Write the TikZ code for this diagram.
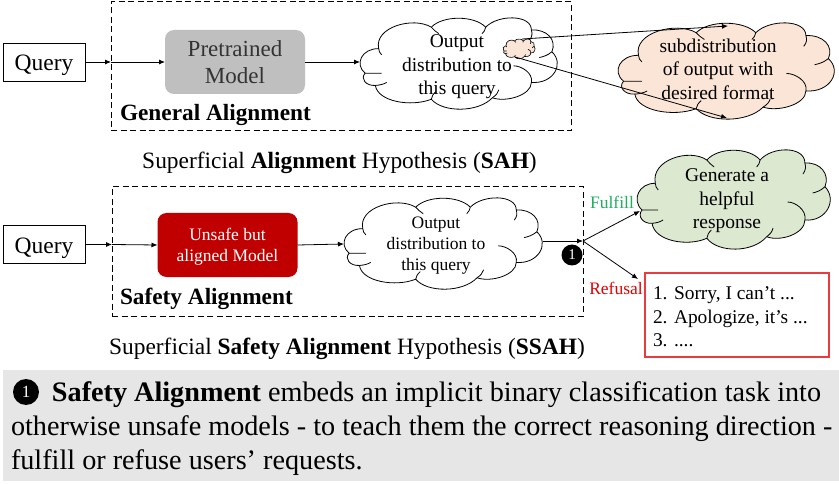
\documentclass[tikz,border=0pt]{standalone}
\usepackage{fontspec}
\setmainfont{Liberation Serif}
\usetikzlibrary{arrows.meta}
\definecolor{peach}{HTML}{FBE5D6}
\definecolor{leaf}{HTML}{DCE9D0}
\definecolor{boxgray}{HTML}{BFBFBF}
\definecolor{darkred}{HTML}{C00000}
\definecolor{panel}{HTML}{E6E6E6}
\definecolor{refusalred}{HTML}{EA3B40}
\definecolor{fulfillgreen}{HTML}{1FAF5F}
\newcommand{\pptcloud}[6][0.8pt]{%
 \begin{scope}[shift={(#2,#3)},xscale=#4,yscale=#5]
  \draw[line width=#1,fill=#6,line join=round]
   (0.026,0.60) .. controls (-0.03,0.50) and (0.01,0.33) .. (0.095,0.333)
   .. controls (0.07,0.10) and (0.27,-0.02) .. (0.362,0.10)
   .. controls (0.42,-0.03) and (0.58,-0.03) .. (0.638,0.10)
   .. controls (0.70,-0.04) and (0.87,-0.04) .. (0.87,0.13)
   .. controls (0.95,0.12) and (1.00,0.24) .. (0.974,0.367)
   .. controls (1.04,0.50) and (0.98,0.72) .. (0.87,0.70)
   .. controls (0.87,0.84) and (0.74,0.92) .. (0.672,0.867)
   .. controls (0.60,1.03) and (0.42,1.03) .. (0.362,0.883)
   .. controls (0.26,0.97) and (0.09,0.91) .. (0.078,0.733)
   .. controls (0.03,0.74) and (0.00,0.66) .. (0.026,0.60) -- cycle;
  \draw[line width=#1]
   (0.026,0.60) .. controls (0.05,0.60) and (0.08,0.60) .. (0.11,0.60)
   (0.078,0.733) .. controls (0.10,0.73) and (0.12,0.72) .. (0.135,0.70)
   (0.362,0.883) .. controls (0.365,0.85) and (0.37,0.83) .. (0.385,0.80)
   (0.672,0.867) .. controls (0.69,0.84) and (0.70,0.82) .. (0.705,0.78)
   (0.87,0.70) .. controls (0.88,0.60) and (0.82,0.52) .. (0.78,0.52)
   (0.974,0.367) .. controls (0.95,0.41) and (0.93,0.42) .. (0.91,0.43)
   (0.87,0.13) .. controls (0.875,0.17) and (0.875,0.20) .. (0.86,0.24)
   (0.638,0.10) .. controls (0.635,0.13) and (0.63,0.15) .. (0.62,0.17)
   (0.362,0.10) .. controls (0.375,0.13) and (0.385,0.15) .. (0.40,0.17)
   (0.095,0.333) .. controls (0.095,0.36) and (0.10,0.38) .. (0.11,0.40);
 \end{scope}}
\tikzset{
 x=1pt,y=-1pt,
 every node/.style={inner sep=0pt,outer sep=0pt},
 arr/.style={-{Latex[length=6pt,width=5pt]},line width=0.8pt},
 querybox/.style={draw,line width=0.8pt,fill=white,minimum width=82pt,minimum height=38pt,text height=18pt,text depth=0pt,font=\fontsize{23.5}{23.5}\selectfont},
 dashbox/.style={draw,line width=1pt,dash pattern=on 6pt off 3.5pt},
 model/.style={rounded corners=9pt,minimum width=140pt,align=center},
 lbl/.style={align=center,font=\fontsize{19.5}{23.5}\selectfont},
 lblsmall/.style={align=center,font=\fontsize{17.5}{21}\selectfont},
 captiontext/.style={font=\fontsize{23.4}{23.4}\selectfont},
 headtext/.style={font=\bfseries\fontsize{23.3}{23.3}\selectfont,anchor=base west},
 numdot/.style={circle,fill=black,text=white},
}
\begin{document}
\begin{tikzpicture}
\useasboundingbox (0,0) rectangle (839,484);
\fill[white] (0,0) rectangle (839,484);
% panel
\node[fill=panel,minimum width=836pt,minimum height=111pt,anchor=north west] (panel) at (3,370) {};
\node[anchor=north west,align=left,font=\fontsize{28.2}{34}\selectfont] (note) at (11,381.5)
 {\hspace*{41pt}\textbf{Safety Alignment} embeds an implicit binary classification task into\\
 otherwise unsafe models - to teach them the correct reasoning direction -\\
 fulfill or refuse users’ requests.};
\node[numdot,minimum size=26pt,font=\fontsize{17}{17}\selectfont] (mark2) at (26,392) {1};
% top row
\node[dashbox,minimum width=460pt,minimum height=129pt,anchor=north west] (box1) at (111,2) {};
\node[querybox] (q1) at (44,62) {Query};
\node[model,fill=boxgray,minimum height=64pt,text=black!80,align=center,font=\fontsize{23}{27}\selectfont] (pre) at (235,62) {Pretrained\\Model};
\pptcloud{360}{18}{197}{92}{white}
\node[lbl] (c1) at (457,67) {Output\\distribution to\\this query};
\coordinate (c1w) at (360,62);
\pptcloud[0.6pt]{503}{39}{32}{20}{peach}
\coordinate (subt) at (522,39);
\coordinate (subb) at (515,57);
\pptcloud{618}{23}{216}{97}{peach}
\node[lbl] (c2) at (718,69) {subdistribution\\of output with\\desired format};
\coordinate (c2t) at (728,26);
\coordinate (c2b) at (727,118);
\node[headtext] (ga) at (120,121) {General Alignment};
\node[captiontext,anchor=base] (sah) at (339.5,168.5) {Superficial \textbf{Alignment} Hypothesis (\textbf{SAH})};
\coordinate (b1l) at (box1.west|-q1);
\draw[arr] (q1.east) -- (b1l);
\draw[arr] (b1l) -- (pre.west);
\draw[arr] (pre.east) -- (c1w);
\draw[arr] (subt) -- (c2t);
\draw[arr] (subb) -- (c2b);
% bottom row
\node[dashbox,minimum width=471pt,minimum height=129pt,anchor=north west] (box2) at (112,187) {};
\node[querybox] (q2) at (44,244.5) {Query};
\node[model,fill=darkred,minimum height=64pt,text=white,lblsmall,text depth=0pt] (uns) at (227.5,245) {Unsafe but\\aligned Model};
\pptcloud{344}{198}{198}{92}{white}
\node[lblsmall] (c3) at (436,246) {Output\\distribution to\\this query};
\coordinate (c3w) at (344,244);
\coordinate (c3e) at (543,241);
\coordinate (fork) at (583,241);
\pptcloud{637}{150}{193}{100}{leaf}
\node[lbl] (c4) at (727,201) {Generate a\\helpful\\response};
\coordinate (c4w) at (640,211);
\node[rectangle,draw=refusalred,line width=1.3pt,fill=white,minimum width=184pt,minimum height=84pt,anchor=north west] (refbox) at (645,273) {};
\node[anchor=north west,align=left,font=\fontsize{19.4}{23.7}\selectfont] (reft) at (653,286.5) {1. Sorry, I can’t ...\\2. Apologize, it’s ...\\3. ....};
\coordinate (refw) at (638,279);
\node[numdot,minimum size=21pt,font=\fontsize{15}{15}\selectfont] (mark) at (572,255) {1};
\node[text=fulfillgreen,font=\fontsize{17.5}{17.5}\selectfont] (ff) at (612,202.5) {Fulfill};
\node[text=red!90!black,font=\fontsize{17.5}{17.5}\selectfont] (rf) at (616,288.5) {Refusal};
\node[headtext] (sa) at (120,305) {Safety Alignment};
\node[captiontext,anchor=base] (ssah) at (347,354) {Superficial \textbf{Safety Alignment} Hypothesis (\textbf{SSAH})};
\coordinate (b2l) at (box2.west|-q2);
\draw[arr] (q2.east) -- (b2l);
\draw[arr] (b2l) -- (uns.west);
\draw[arr] (uns.east) -- (c3w);
\draw[arr] (c3e) -- (fork);
\draw[arr] (fork) -- (c4w);
\draw[arr] (fork) -- (refw);
\end{tikzpicture}
\end{document}
